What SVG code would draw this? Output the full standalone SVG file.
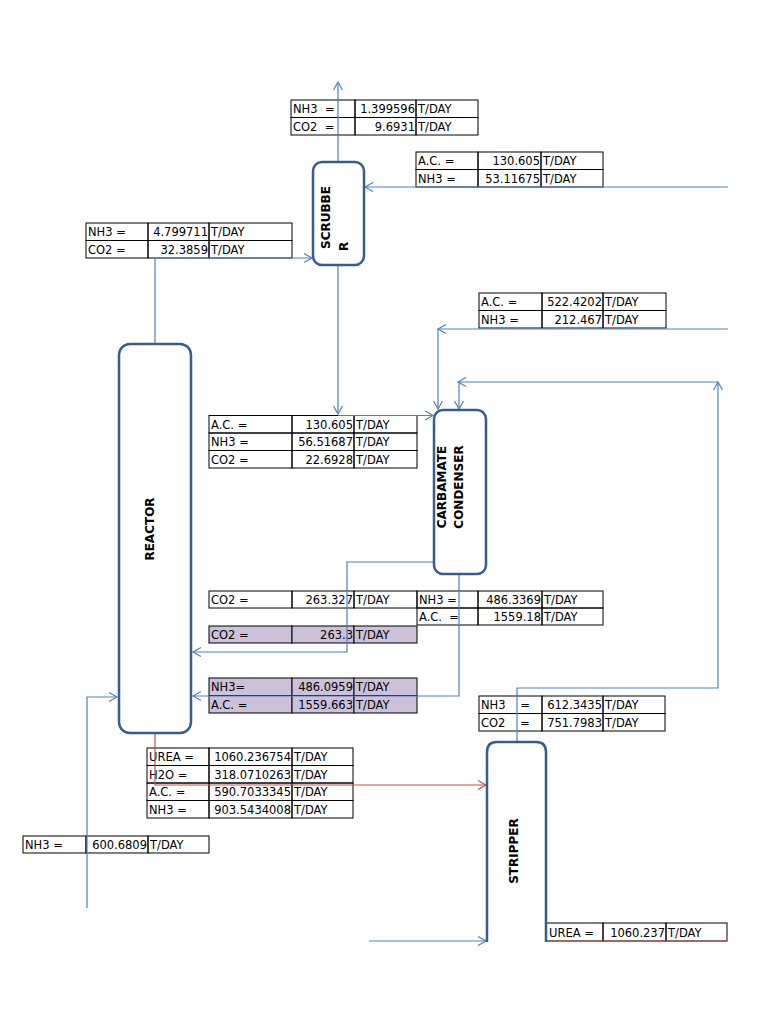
<svg xmlns="http://www.w3.org/2000/svg" width="768" height="1024" viewBox="0 0 768 1024">
<style>
text{font-family:"DejaVu Sans","Liberation Sans",sans-serif;font-size:11.5px;fill:#000;white-space:pre}
.c{fill:none;stroke:#000;stroke-width:1}
.p{fill:#ccc0da;stroke:#000;stroke-width:1}
.v{text-anchor:end}
.ln{fill:none;stroke:#4f81bd;stroke-width:1.2}
.red{fill:none;stroke:#c0504d;stroke-width:1.2}
.node{fill:#fff;stroke:#385d8a;stroke-width:2.5}
.lbl{font-size:12px;font-weight:bold}
</style>
<defs>
<marker id="a" markerUnits="userSpaceOnUse" markerWidth="12" markerHeight="12" refX="10" refY="6" orient="auto">
<path d="M2,1.5 L10,6 L2,10.5" fill="none" stroke="#4f81bd" stroke-width="1.2"/>
</marker>
<marker id="ar" markerUnits="userSpaceOnUse" markerWidth="12" markerHeight="12" refX="10" refY="6" orient="auto">
<path d="M2,1.5 L10,6 L2,10.5" fill="none" stroke="#c0504d" stroke-width="1.2"/>
</marker>
</defs>
<rect width="768" height="1024" fill="#fff"/>

<g id="tables">
<g id="t1">
<rect class="c" x="291" y="100" width="64" height="17.5"/><rect class="c" x="355" y="100" width="61" height="17.5"/><rect class="c" x="416" y="100" width="62" height="17.5"/>
<rect class="c" x="291" y="117.5" width="64" height="17.5"/><rect class="c" x="355" y="117.5" width="61" height="17.5"/><rect class="c" x="416" y="117.5" width="62" height="17.5"/>
<text x="293" y="113">NH3  =</text><text class="v" x="415" y="113">1.399596</text><text x="418" y="113">T/DAY</text>
<text x="293" y="130.5">CO2  =</text><text class="v" x="415" y="130.5">9.6931</text><text x="418" y="130.5">T/DAY</text>
</g>
<g id="t2">
<rect class="c" x="86" y="223" width="62" height="17.5"/><rect class="c" x="148" y="223" width="61" height="17.5"/><rect class="c" x="209" y="223" width="83" height="17.5"/>
<rect class="c" x="86" y="240.5" width="62" height="17.5"/><rect class="c" x="148" y="240.5" width="61" height="17.5"/><rect class="c" x="209" y="240.5" width="83" height="17.5"/>
<text x="88" y="236">NH3 =</text><text class="v" x="208" y="236">4.799711</text><text x="211" y="236">T/DAY</text>
<text x="88" y="253.5">CO2 =</text><text class="v" x="208" y="253.5">32.3859</text><text x="211" y="253.5">T/DAY</text>
</g>
<g id="t3">
<rect class="c" x="416" y="152" width="62" height="17.5"/><rect class="c" x="478" y="152" width="63" height="17.5"/><rect class="c" x="541" y="152" width="62" height="17.5"/>
<rect class="c" x="416" y="169.5" width="62" height="17.5"/><rect class="c" x="478" y="169.5" width="63" height="17.5"/><rect class="c" x="541" y="169.5" width="62" height="17.5"/>
<text x="418" y="165">A.C. =</text><text class="v" x="540" y="165">130.605</text><text x="543" y="165">T/DAY</text>
<text x="418" y="182.5">NH3 =</text><text class="v" x="540" y="182.5">53.11675</text><text x="543" y="182.5">T/DAY</text>
</g>
<g id="t4">
<rect class="c" x="479" y="293" width="63" height="17.5"/><rect class="c" x="542" y="293" width="61" height="17.5"/><rect class="c" x="603" y="293" width="63" height="17.5"/>
<rect class="c" x="479" y="310.5" width="63" height="17.5"/><rect class="c" x="542" y="310.5" width="61" height="17.5"/><rect class="c" x="603" y="310.5" width="63" height="17.5"/>
<text x="481" y="306">A.C. =</text><text class="v" x="602" y="306">522.4202</text><text x="605" y="306">T/DAY</text>
<text x="481" y="323.5">NH3 =</text><text class="v" x="602" y="323.5">212.467</text><text x="605" y="323.5">T/DAY</text>
</g>
<g id="t5">
<rect class="c" x="209" y="415.5" width="83" height="17.5"/><rect class="c" x="292" y="415.5" width="62" height="17.5"/><rect class="c" x="354" y="415.5" width="63" height="17.5"/>
<rect class="c" x="209" y="433" width="83" height="17.5"/><rect class="c" x="292" y="433" width="62" height="17.5"/><rect class="c" x="354" y="433" width="63" height="17.5"/>
<rect class="c" x="209" y="450.5" width="83" height="17.5"/><rect class="c" x="292" y="450.5" width="62" height="17.5"/><rect class="c" x="354" y="450.5" width="63" height="17.5"/>
<text x="211" y="428.5">A.C. =</text><text class="v" x="353" y="428.5">130.605</text><text x="356" y="428.5">T/DAY</text>
<text x="211" y="446">NH3 =</text><text class="v" x="353" y="446">56.51687</text><text x="356" y="446">T/DAY</text>
<text x="211" y="463.5">CO2 =</text><text class="v" x="353" y="463.5">22.6928</text><text x="356" y="463.5">T/DAY</text>
</g>
<g id="t6">
<rect class="c" x="209" y="591" width="83" height="17"/><rect class="c" x="292" y="591" width="62" height="17"/><rect class="c" x="354" y="591" width="63" height="17"/>
<text x="211" y="604">CO2 =</text><text class="v" x="353" y="604">263.327</text><text x="356" y="604">T/DAY</text>
</g>
<g id="t7">
<rect class="c" x="417" y="591" width="61" height="17"/><rect class="c" x="478" y="591" width="64" height="17"/><rect class="c" x="542" y="591" width="61" height="17"/>
<rect class="c" x="417" y="608" width="61" height="17"/><rect class="c" x="478" y="608" width="64" height="17"/><rect class="c" x="542" y="608" width="61" height="17"/>
<text x="419" y="604">NH3 =</text><text class="v" x="541" y="604">486.3369</text><text x="544" y="604">T/DAY</text>
<text x="419" y="621">A.C.  =</text><text class="v" x="541" y="621">1559.18</text><text x="544" y="621">T/DAY</text>
</g>
<g id="t8">
<rect class="p" x="209" y="626" width="83" height="17"/><rect class="p" x="292" y="626" width="62" height="17"/><rect class="p" x="354" y="626" width="63" height="17"/>
<text x="211" y="639">CO2 =</text><text class="v" x="353" y="639">263.3</text><text x="356" y="639">T/DAY</text>
</g>
<g id="t9">
<rect class="p" x="209" y="678" width="83" height="17.5"/><rect class="p" x="292" y="678" width="62" height="17.5"/><rect class="p" x="354" y="678" width="63" height="17.5"/>
<rect class="p" x="209" y="695.5" width="83" height="17.5"/><rect class="p" x="292" y="695.5" width="62" height="17.5"/><rect class="p" x="354" y="695.5" width="63" height="17.5"/>
<text x="211" y="691">NH3=</text><text class="v" x="353" y="691">486.0959</text><text x="356" y="691">T/DAY</text>
<text x="211" y="708.5">A.C. =</text><text class="v" x="353" y="708.5">1559.663</text><text x="356" y="708.5">T/DAY</text>
</g>
<g id="t10">
<rect class="c" x="479" y="696" width="63" height="17.5"/><rect class="c" x="542" y="696" width="61" height="17.5"/><rect class="c" x="603" y="696" width="62" height="17.5"/>
<rect class="c" x="479" y="713.5" width="63" height="17.5"/><rect class="c" x="542" y="713.5" width="61" height="17.5"/><rect class="c" x="603" y="713.5" width="62" height="17.5"/>
<text x="481" y="709">NH3    =</text><text class="v" x="602" y="709">612.3435</text><text x="605" y="709">T/DAY</text>
<text x="481" y="726.5">CO2    =</text><text class="v" x="602" y="726.5">751.7983</text><text x="605" y="726.5">T/DAY</text>
</g>
<g id="t11">
<rect class="c" x="147" y="748" width="62" height="17.5"/><rect class="c" x="209" y="748" width="83" height="17.5"/><rect class="c" x="292" y="748" width="61" height="17.5"/>
<rect class="c" x="147" y="765.5" width="62" height="17.5"/><rect class="c" x="209" y="765.5" width="83" height="17.5"/><rect class="c" x="292" y="765.5" width="61" height="17.5"/>
<rect class="c" x="147" y="783" width="62" height="17.5"/><rect class="c" x="209" y="783" width="83" height="17.5"/><rect class="c" x="292" y="783" width="61" height="17.5"/>
<rect class="c" x="147" y="800.5" width="62" height="17.5"/><rect class="c" x="209" y="800.5" width="83" height="17.5"/><rect class="c" x="292" y="800.5" width="61" height="17.5"/>
<text x="149" y="761">UREA =</text><text class="v" x="291" y="761">1060.236754</text><text x="294" y="761">T/DAY</text>
<text x="149" y="778.5">H2O =</text><text class="v" x="291" y="778.5">318.0710263</text><text x="294" y="778.5">T/DAY</text>
<text x="149" y="796">A.C. =</text><text class="v" x="291" y="796">590.7033345</text><text x="294" y="796">T/DAY</text>
<text x="149" y="813.5">NH3 =</text><text class="v" x="291" y="813.5">903.5434008</text><text x="294" y="813.5">T/DAY</text>
</g>
<g id="t12">
<rect class="c" x="23" y="836" width="63" height="17"/><rect class="c" x="86" y="836" width="62" height="17"/><rect class="c" x="148" y="836" width="61" height="17"/>
<text x="25" y="849">NH3 =</text><text class="v" x="147" y="849">600.6809</text><text x="150" y="849">T/DAY</text>
</g>
<g id="t13">
<rect class="c" x="542" y="923" width="61" height="18"/><rect class="c" x="603" y="923" width="63" height="18"/><rect class="c" x="666" y="923" width="61" height="18"/>
<text x="549" y="936.5">UREA =</text><text class="v" x="665" y="936.5">1060.237</text><text x="668" y="936.5">T/DAY</text>
</g>
</g>

<g id="connectors">
<path class="ln" d="M338,162 V82" marker-end="url(#a)"/>
<path class="ln" d="M728,187 H365" marker-end="url(#a)"/>
<path class="ln" d="M155,344 V258 H312" marker-end="url(#a)"/>
<path class="ln" d="M338,265 V414" marker-end="url(#a)"/>
<path class="ln" d="M338,415.5 H433" marker-end="url(#a)"/>
<path class="ln" d="M728,329 H438" marker-end="url(#a)"/>
<path class="ln" d="M438,329 V409" marker-end="url(#a)"/>
<path class="ln" d="M517,742 V688 H718 V382" marker-end="url(#a)"/>
<path class="ln" d="M718,382 H458" marker-end="url(#a)"/>
<path class="ln" d="M459,382 V409" marker-end="url(#a)"/>
<path class="ln" d="M434,562 H347 V652 H193" marker-end="url(#a)"/>
<path class="ln" d="M459,574 V696 H193" marker-end="url(#a)"/>
<path class="ln" d="M87,908 V697 H117" marker-end="url(#a)"/>
<path class="ln" d="M369,941 H486" marker-end="url(#a)"/>
<path class="red" d="M155,733 V785 H486" marker-end="url(#ar)"/>
<path class="red" d="M546,941 H727"/>
</g>

<g id="scrubber">
<rect class="node" x="313" y="162" width="51" height="103" rx="9"/>
<text class="lbl" transform="translate(330,249) rotate(-90)">SCRUBBE</text>
<text class="lbl" transform="translate(348,251) rotate(-90)">R</text>
</g>
<g id="reactor">
<rect class="node" x="119" y="344" width="72" height="389" rx="11"/>
<text class="lbl" transform="translate(154,529) rotate(-90)" text-anchor="middle">REACTOR</text>
</g>
<g id="condenser">
<rect class="node" x="434" y="410" width="52" height="164" rx="9"/>
<text class="lbl" transform="translate(446,487) rotate(-90)" text-anchor="middle">CARBAMATE</text>
<text class="lbl" transform="translate(463,487) rotate(-90)" text-anchor="middle">CONDENSER</text>
</g>
<g id="stripper">
<path class="node" d="M487,942 V752 Q487,742 497,742 H536 Q546,742 546,752 V942"/>
<text class="lbl" transform="translate(518,851) rotate(-90)" text-anchor="middle">STRIPPER</text>
</g>
</svg>
